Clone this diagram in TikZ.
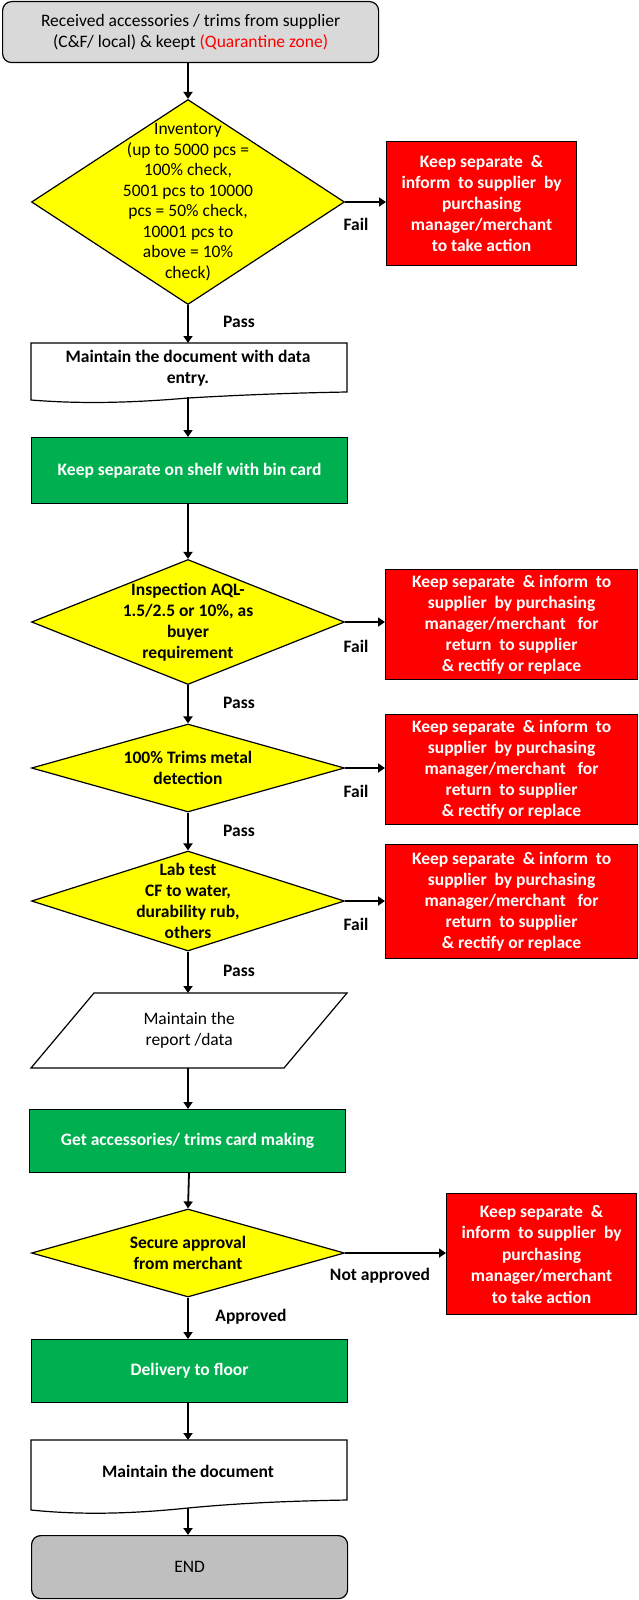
\documentclass[tikz,border=0pt]{standalone}
\usepackage{fontspec}
\setmainfont{Carlito}
\usetikzlibrary{shapes.geometric,arrows.meta}
\definecolor{fyel}{HTML}{FFFF00}
\definecolor{fred}{HTML}{FF0000}
\definecolor{fgrn}{HTML}{00B050}
\definecolor{fgry}{HTML}{D9D9D9}
\definecolor{fgry2}{HTML}{BFBFBF}
\begin{document}
\begin{tikzpicture}[x=1pt,y=-1pt,
  font=\fontsize{17.5}{21}\selectfont\bfseries,
  reg/.style={font=\fontsize{17.5}{20.5}\selectfont},
  tight/.style={font=\fontsize{17.5}{21}\selectfont\bfseries},
  box/.style={draw=black,line width=1.2pt,minimum width=316pt,anchor=north west,inner sep=0},
  frame/.style={minimum width=316pt,anchor=north west,inner sep=0},
  start/.style={box,rounded corners=9pt,fill=fgry},
  green/.style={box,fill=fgrn,text=white},
  red/.style={draw=black,line width=1.2pt,fill=fred,anchor=north west,inner sep=0},
  dia/.style={diamond,draw=black,line width=1.2pt,fill=fyel,minimum width=313pt,inner sep=0},
  txt/.style={align=center,inner sep=0},
  wtxt/.style={align=center,inner sep=0,text=white},
  lab/.style={inner sep=0},
  arr/.style={-{Triangle[length=7pt,width=9pt]},line width=1.8pt},
  docpath/.style={draw=black,line width=1.2pt,fill=white}]
\useasboundingbox (0,0) rectangle (638,1600);

% start
\node[start,minimum width=376pt,minimum height=61pt,txt,reg] (s) at (2,1) {Received accessories / trims from supplier\\(C\&F/ local) \& keept {\color{fred}(Quarantine zone)}};
% diamond 1
\node[dia,minimum height=205pt] (d1) at (188,202) {};
\node[txt,reg] at (d1) {Inventory\\(up to 5000 pcs =\\100\% check,\\5001 pcs to 10000\\pcs = 50\% check,\\10001 pcs to\\above = 10\%\\check)};
\node[red,minimum width=190pt,minimum height=124pt] (r1) at (386,141) {};
\node[wtxt] at (r1) {Keep separate \ \&\\inform \ to supplier \ by\\purchasing\\manager/merchant\\to take action};
% doc 1
\node[frame,minimum height=50pt] (m1) at (31,343) {};
\draw[docpath] (31,343) -- (347,343) -- (347,392) .. controls (290,393) and (240,395) .. (188,398) .. controls (130,403) and (80,404) .. (31,400) -- cycle;
\node[txt] at (188,368) {Maintain the document with data\\entry.};
% green 1
\node[green,minimum height=66pt] (g1) at (31,437) {Keep separate on shelf with bin card};
% diamond 2
\node[dia,minimum height=125pt] (d2) at (188,622) {};
\node[txt,tight] at (d2) {Inspection AQL-\\1.5/2.5 or 10\%, as\\buyer\\requirement};
\node[red,minimum width=252pt,minimum height=110pt] (r2) at (385,569) {};
\node[wtxt,tight] at (r2) {Keep separate \ \& inform \ to\\supplier \ by purchasing\\manager/merchant \ \ for\\return \ to supplier\\\& rectify or replace};
% diamond 3
\node[dia,minimum height=88pt] (d3) at (188,768) {};
\node[txt,tight] at (d3) {100\% Trims metal\\detection};
\node[red,minimum width=252pt,minimum height=110pt] (r3) at (385,714) {};
\node[wtxt,tight] at (r3) {Keep separate \ \& inform \ to\\supplier \ by purchasing\\manager/merchant \ \ for\\return \ to supplier\\\& rectify or replace};
% diamond 4
\node[dia,minimum height=100pt] (d4) at (188,901) {};
\node[txt,tight] at (d4) {Lab test\\CF to water,\\durability rub,\\others};
\node[red,minimum width=252pt,minimum height=114pt] (r4) at (385,844) {};
\node[wtxt,tight] at (r4) {Keep separate \ \& inform \ to\\supplier \ by purchasing\\manager/merchant \ \ for\\return \ to supplier\\\& rectify or replace};
% parallelogram
\node[frame,minimum height=75pt] (p1) at (31,993) {};
\draw[docpath] (94,993) -- (347,993) -- (284,1068) -- (31,1068) -- cycle;
\node[txt,reg,font=\fontsize{17.5}{21}\selectfont] at (p1) {Maintain the\\report /data};
% green 2
\node[green,minimum height=63pt] (g2) at (29,1109) {Get accessories/ trims card making};
% diamond 5
\node[dia,minimum height=88pt] (d5) at (188,1253) {};
\node[txt,font=\fontsize{17.5}{21}\selectfont\bfseries] at (d5) {Secure approval\\from merchant};
\node[red,minimum width=190pt,minimum height=121pt] (r5) at (446,1193) {};
\node[wtxt,font=\fontsize{17.5}{21.5}\selectfont\bfseries] at (r5) {Keep separate \ \&\\inform \ to supplier \ by\\purchasing\\manager/merchant\\to take action};
% green 3
\node[green,minimum height=63pt] (g3) at (31,1339) {Delivery to floor};
% doc 2
\node[frame,minimum height=70pt] (m2) at (31,1440) {};
\draw[docpath] (31,1440) -- (347,1440) -- (347,1500) .. controls (290,1501) and (240,1503) .. (188,1508) .. controls (130,1514) and (80,1515) .. (31,1510) -- cycle;
\node[txt] at (188,1471) {Maintain the document};
% end
\node[box,rounded corners=9pt,fill=fgry2,minimum height=63pt,reg] (e) at (31,1535) {END};

% arrows
\draw[arr] (s.south -| 188,0) -- (d1.north);
\draw[arr] (d1.east) -- (r1.west |- d1.east);
\draw[arr] (d1.south) -- (m1.north -| d1.south);
\draw[arr] (188,397) -- (g1.north -| 188,0);
\draw[arr] (g1.south -| 188,0) -- (d2.north);
\draw[arr] (d2.east) -- (r2.west |- d2.east);
\draw[arr] (d2.south) -- (d3.north);
\draw[arr] (d3.east) -- (r3.west |- d3.east);
\draw[arr] (d3.south) -- (d4.north);
\draw[arr] (d4.east) -- (r4.west |- d4.east);
\draw[arr] (d4.south) -- (p1.north -| d4.south);
\draw[arr] (p1.south -| 188,0) -- (g2.north -| 188,0);
\draw[arr] (g2.south -| 189,0) -- (d5.north);
\draw[arr] (d5.east) -- (r5.west |- d5.east);
\draw[arr] (d5.south) -- (g3.north -| 188,0);
\draw[arr] (g3.south -| 188,0) -- (m2.north -| 188,0);
\draw[arr] (188,1508) -- (e.north -| 188,0);

% labels
\node[lab] at (356,224) {Fail};
\node[lab] at (239,322) {Pass};
\node[lab] at (356,646) {Fail};
\node[lab] at (239,703) {Pass};
\node[lab] at (356,791) {Fail};
\node[lab] at (239,831) {Pass};
\node[lab] at (356,924) {Fail};
\node[lab] at (239,971) {Pass};
\node[lab] at (380,1276) {Not approved};
\node[lab] at (251,1317) {Approved};
\end{tikzpicture}
\end{document}
